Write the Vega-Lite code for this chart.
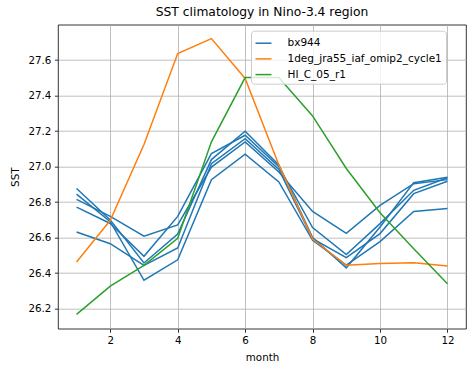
{
  "$schema": "https://vega.github.io/schema/vega-lite/v6.json",
  "width": 408,
  "height": 304,
  "autosize": {"type": "none"},
  "padding": {"left": 58, "top": 24.7, "right": 8, "bottom": 43.3},
  "background": "white",
  "title": {"text": "SST climatology in Nino-3.4 region", "font": "DejaVu Sans", "fontSize": 12.3, "fontWeight": "normal", "color": "black", "anchor": "middle", "frame": "group", "offset": 6},
  "data": {"values": [
    {"model": "bx944", "run": "a", "month": 1, "sst": 26.877},
    {"model": "bx944", "run": "a", "month": 2, "sst": 26.70},
    {"model": "bx944", "run": "a", "month": 3, "sst": 26.457},
    {"model": "bx944", "run": "a", "month": 4, "sst": 26.62},
    {"model": "bx944", "run": "a", "month": 5, "sst": 27.04},
    {"model": "bx944", "run": "a", "month": 6, "sst": 27.20},
    {"model": "bx944", "run": "a", "month": 7, "sst": 27.01},
    {"model": "bx944", "run": "a", "month": 8, "sst": 26.60},
    {"model": "bx944", "run": "a", "month": 9, "sst": 26.43},
    {"model": "bx944", "run": "a", "month": 10, "sst": 26.66},
    {"model": "bx944", "run": "a", "month": 11, "sst": 26.91},
    {"model": "bx944", "run": "a", "month": 12, "sst": 26.94},
    {"model": "bx944", "run": "b", "month": 1, "sst": 26.845},
    {"model": "bx944", "run": "b", "month": 2, "sst": 26.69},
    {"model": "bx944", "run": "b", "month": 3, "sst": 26.36},
    {"model": "bx944", "run": "b", "month": 4, "sst": 26.475},
    {"model": "bx944", "run": "b", "month": 5, "sst": 26.927},
    {"model": "bx944", "run": "b", "month": 6, "sst": 27.07},
    {"model": "bx944", "run": "b", "month": 7, "sst": 26.914},
    {"model": "bx944", "run": "b", "month": 8, "sst": 26.585},
    {"model": "bx944", "run": "b", "month": 9, "sst": 26.445},
    {"model": "bx944", "run": "b", "month": 10, "sst": 26.578},
    {"model": "bx944", "run": "b", "month": 11, "sst": 26.748},
    {"model": "bx944", "run": "b", "month": 12, "sst": 26.764},
    {"model": "bx944", "run": "c", "month": 1, "sst": 26.816},
    {"model": "bx944", "run": "c", "month": 2, "sst": 26.72},
    {"model": "bx944", "run": "c", "month": 3, "sst": 26.608},
    {"model": "bx944", "run": "c", "month": 4, "sst": 26.672},
    {"model": "bx944", "run": "c", "month": 5, "sst": 26.998},
    {"model": "bx944", "run": "c", "month": 6, "sst": 27.139},
    {"model": "bx944", "run": "c", "month": 7, "sst": 26.97},
    {"model": "bx944", "run": "c", "month": 8, "sst": 26.748},
    {"model": "bx944", "run": "c", "month": 9, "sst": 26.624},
    {"model": "bx944", "run": "c", "month": 10, "sst": 26.782},
    {"model": "bx944", "run": "c", "month": 11, "sst": 26.904},
    {"model": "bx944", "run": "c", "month": 12, "sst": 26.927},
    {"model": "bx944", "run": "d", "month": 1, "sst": 26.772},
    {"model": "bx944", "run": "d", "month": 2, "sst": 26.68},
    {"model": "bx944", "run": "d", "month": 3, "sst": 26.495},
    {"model": "bx944", "run": "d", "month": 4, "sst": 26.72},
    {"model": "bx944", "run": "d", "month": 5, "sst": 27.074},
    {"model": "bx944", "run": "d", "month": 6, "sst": 27.177},
    {"model": "bx944", "run": "d", "month": 7, "sst": 27.0},
    {"model": "bx944", "run": "d", "month": 8, "sst": 26.657},
    {"model": "bx944", "run": "d", "month": 9, "sst": 26.505},
    {"model": "bx944", "run": "d", "month": 10, "sst": 26.679},
    {"model": "bx944", "run": "d", "month": 11, "sst": 26.867},
    {"model": "bx944", "run": "d", "month": 12, "sst": 26.938},
    {"model": "bx944", "run": "e", "month": 1, "sst": 26.632},
    {"model": "bx944", "run": "e", "month": 2, "sst": 26.566},
    {"model": "bx944", "run": "e", "month": 3, "sst": 26.444},
    {"model": "bx944", "run": "e", "month": 4, "sst": 26.542},
    {"model": "bx944", "run": "e", "month": 5, "sst": 27.017},
    {"model": "bx944", "run": "e", "month": 6, "sst": 27.158},
    {"model": "bx944", "run": "e", "month": 7, "sst": 26.985},
    {"model": "bx944", "run": "e", "month": 8, "sst": 26.594},
    {"model": "bx944", "run": "e", "month": 9, "sst": 26.487},
    {"model": "bx944", "run": "e", "month": 10, "sst": 26.623},
    {"model": "bx944", "run": "e", "month": 11, "sst": 26.848},
    {"model": "bx944", "run": "e", "month": 12, "sst": 26.918},
    {"model": "1deg_jra55_iaf_omip2_cycle1", "run": "f", "month": 1, "sst": 26.463},
    {"model": "1deg_jra55_iaf_omip2_cycle1", "run": "f", "month": 2, "sst": 26.698},
    {"model": "1deg_jra55_iaf_omip2_cycle1", "run": "f", "month": 3, "sst": 27.125},
    {"model": "1deg_jra55_iaf_omip2_cycle1", "run": "f", "month": 4, "sst": 27.638},
    {"model": "1deg_jra55_iaf_omip2_cycle1", "run": "f", "month": 5, "sst": 27.722},
    {"model": "1deg_jra55_iaf_omip2_cycle1", "run": "f", "month": 6, "sst": 27.497},
    {"model": "1deg_jra55_iaf_omip2_cycle1", "run": "f", "month": 7, "sst": 27.01},
    {"model": "1deg_jra55_iaf_omip2_cycle1", "run": "f", "month": 8, "sst": 26.592},
    {"model": "1deg_jra55_iaf_omip2_cycle1", "run": "f", "month": 9, "sst": 26.444},
    {"model": "1deg_jra55_iaf_omip2_cycle1", "run": "f", "month": 10, "sst": 26.454},
    {"model": "1deg_jra55_iaf_omip2_cycle1", "run": "f", "month": 11, "sst": 26.458},
    {"model": "1deg_jra55_iaf_omip2_cycle1", "run": "f", "month": 12, "sst": 26.44},
    {"model": "HI_C_05_r1", "run": "g", "month": 1, "sst": 26.168},
    {"model": "HI_C_05_r1", "run": "g", "month": 2, "sst": 26.327},
    {"model": "HI_C_05_r1", "run": "g", "month": 3, "sst": 26.444},
    {"model": "HI_C_05_r1", "run": "g", "month": 4, "sst": 26.596},
    {"model": "HI_C_05_r1", "run": "g", "month": 5, "sst": 27.14},
    {"model": "HI_C_05_r1", "run": "g", "month": 6, "sst": 27.502},
    {"model": "HI_C_05_r1", "run": "g", "month": 7, "sst": 27.502},
    {"model": "HI_C_05_r1", "run": "g", "month": 8, "sst": 27.286},
    {"model": "HI_C_05_r1", "run": "g", "month": 9, "sst": 26.99},
    {"model": "HI_C_05_r1", "run": "g", "month": 10, "sst": 26.74},
    {"model": "HI_C_05_r1", "run": "g", "month": 11, "sst": 26.538},
    {"model": "HI_C_05_r1", "run": "g", "month": 12, "sst": 26.34}
  ]},
  "mark": {"type": "line", "strokeWidth": 1.5, "clip": true},
  "encoding": {
    "x": {"field": "month", "type": "quantitative", "scale": {"domain": [0.45, 12.55], "nice": false, "zero": false},
      "axis": {"title": "month", "values": [2, 4, 6, 8, 10, 12], "format": "d", "titlePadding": 6}},
    "y": {"field": "sst", "type": "quantitative", "scale": {"domain": [26.087, 27.8], "nice": false, "zero": false},
      "axis": {"title": "SST", "values": [26.2, 26.4, 26.6, 26.8, 27.0, 27.2, 27.4, 27.6], "format": ".1f", "titlePadding": 7}},
    "color": {"field": "model", "type": "nominal",
      "scale": {"domain": ["bx944", "1deg_jra55_iaf_omip2_cycle1", "HI_C_05_r1"], "range": ["#1f77b4", "#ff7f0e", "#2ca02c"]},
      "legend": {"title": null, "orient": "none", "legendX": 193, "legendY": 6, "symbolType": "stroke", "symbolSize": 256, "symbolStrokeWidth": 1.5,
        "labelFont": "DejaVu Sans", "labelFontSize": 10.5, "labelColor": "black", "labelOffset": 15, "rowPadding": 0.7,
        "padding": 3.5, "fillColor": "rgba(255,255,255,0.8)", "strokeColor": "#cccccc", "cornerRadius": 3, "labelLimit": 300}},
    "detail": {"field": "run", "type": "nominal"}
  },
  "config": {
    "view": {"stroke": "#000000", "strokeWidth": 0.8},
    "axis": {
      "domain": false, "grid": true, "gridColor": "#b0b0b0", "gridWidth": 0.8,
      "ticks": true, "tickColor": "#000000", "tickSize": 3.6, "tickWidth": 0.8,
      "labelFont": "DejaVu Sans", "labelFontSize": 10.3, "labelColor": "#000000", "labelPadding": 3.5,
      "titleFont": "DejaVu Sans", "titleFontSize": 10.3, "titleFontWeight": "normal", "titleColor": "#000000", "titlePadding": 4
    }
  }
}
